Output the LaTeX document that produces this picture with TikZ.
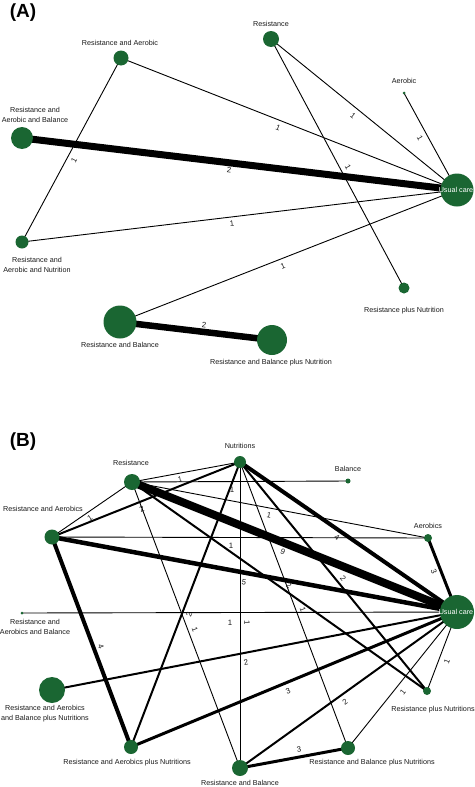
\documentclass[tikz,border=0pt]{standalone}
\usepackage{fontspec}
\setmainfont{Liberation Sans}
\usetikzlibrary{backgrounds}
\definecolor{nodegreen}{RGB}{26,102,50}
\definecolor{txt}{RGB}{25,25,25}
\begin{document}
\begin{tikzpicture}[x=1pt,y=-1pt,
  tnode/.style={circle, fill=nodegreen, draw=none, inner sep=0pt, minimum size=#1},
  tlab/.style={font=\fontsize{7.2}{10}\selectfont, text=txt, align=center, inner sep=0pt},
  elab/.style={font=\fontsize{7.8}{9}\selectfont, text=txt, inner sep=0pt},
  ucl/.style={font=\fontsize{7.2}{10}\selectfont, text=white, inner sep=0pt},
  panel/.style={font=\fontsize{19}{22}\selectfont\bfseries, text=black, inner sep=0pt},
  link/.style={draw=black, line width=#1}]
\useasboundingbox (0,0) rectangle (474,787);
\clip (0,0) rectangle (474,787);

% ---------------- Panel A ----------------
\node[panel] (pA) at (23,13) {(A)};
\node[tnode=33pt] (aUC) at (457,190) {};
\node[tnode=16pt] (aR) at (271,39) {};
\node[tnode=15pt] (aRA) at (121,58) {};
\node[tnode=3pt] (aA) at (404,93) {};
\node[tnode=22pt] (aRAB) at (22,138) {};
\node[tnode=13pt] (aRAN) at (22,242) {};
\node[tnode=11pt] (aRPN) at (404,288) {};
\node[tnode=33pt] (aRB) at (120,322) {};
\node[tnode=30pt] (aRBN) at (272,340) {};

\node[ucl] (aUCt) at (456,190) {Usual care};
\node[tlab] (aRAt) at (120,43) {Resistance and Aerobic};
\node[tlab] (aRt) at (271,24) {Resistance};
\node[tlab] (aAt) at (404,81) {Aerobic};
\node[tlab] (aRABt) at (35,115) {Resistance and\\Aerobic and Balance};
\node[tlab] (aRANt) at (37,265) {Resistance and\\Aerobic and Nutrition};
\node[tlab] (aRPNt) at (404,311) {Resistance plus Nutrition};
\node[tlab] (aRBt) at (120,345) {Resistance and Balance};
\node[tlab] (aRBNt) at (271,363) {Resistance and Balance plus Nutrition};

\begin{pgfonlayer}{background}
\draw[link=0.9pt] (aRA.center) -- (aUC.center);
\draw[link=0.9pt] (aR.center) -- (aUC.center);
\draw[link=0.9pt] (aA.center) -- (aUC.center);
\draw[link=0.9pt] (aR.center) -- (aRPN.center);
\draw[link=7pt] (aRAB.center) -- (aUC.center);
\draw[link=0.9pt] (aRA.center) -- (aRAN.center);
\draw[link=0.9pt] (aRAN.center) -- (aUC.center);
\draw[link=0.9pt] (aRB.center) -- (aUC.center);
\draw[link=6.5pt] (aRB.center) -- (aRBN.center);
\end{pgfonlayer}

\node[elab, rotate=-21.4] (aL1) at (278,128) {1};
\node[elab, rotate=-39.1] (aL2) at (353,116) {1};
\node[elab, rotate=-61.3] (aL3) at (420,138) {1};
\node[elab, rotate=-61.9] (aL4) at (348,167) {1};
\node[elab, rotate=-6.8] (aL5) at (229,170) {2};
\node[elab, rotate=61.7] (aL6) at (74,160) {1};
\node[elab, rotate=6.8] (aL7) at (232,224) {1};
\node[elab, rotate=21.4] (aL8) at (283,266) {1};
\node[elab, rotate=-6.8] (aL9) at (204,325) {2};

% ---------------- Panel B ----------------
\node[panel] (pB) at (23,442) {(B)};
\node[tnode=34pt] (bUC) at (457,612) {};
\node[tnode=16pt] (bR) at (132,482) {};
\node[tnode=12pt] (bN) at (240,462) {};
\node[tnode=5pt] (bBal) at (348,481) {};
\node[tnode=15pt] (bRA) at (52,537) {};
\node[tnode=8pt] (bAer) at (428,538) {};
\node[tnode=3pt] (bRAB) at (22,613) {};
\node[tnode=26pt] (bRABN) at (52,690) {};
\node[tnode=14pt] (bRAN) at (131,747) {};
\node[tnode=16pt] (bRB) at (240,768) {};
\node[tnode=14pt] (bRBN) at (348,748) {};
\node[tnode=8pt] (bRPN) at (427,691) {};

\node[ucl] (bUCt) at (456,612) {Usual care};
\node[tlab] (bNt) at (240,446) {Nutritions};
\node[tlab] (bRt) at (131,463) {Resistance};
\node[tlab] (bBalt) at (348,469) {Balance};
\node[tlab] (bRAt) at (43,509) {Resistance and Aerobics};
\node[tlab] (bAert) at (428,526) {Aerobics};
\node[tlab] (bRABt) at (35,627) {Resistance and\\Aerobics and Balance};
\node[tlab] (bRABNt) at (45,714) {Resistance and Aerobics\\and Balance plus Nutritions};
\node[tlab] (bRANt) at (127,763) {Resistance and Aerobics plus Nutritions};
\node[tlab] (bRBt) at (240,783) {Resistance and Balance};
\node[tlab] (bRBNt) at (372,763) {Resistance and Balance plus Nutritions};
\node[tlab] (bRPNt) at (433,710) {Resistance plus Nutritions};

\begin{pgfonlayer}{background}
\draw[link=0.9pt] (bR.center) -- (bN.center);
\draw[link=0.9pt] (bR.center) -- (bBal.center);
\draw[link=0.9pt] (bR.center) -- (bRA.center);
\draw[link=0.9pt] (bR.center) -- (bAer.center);
\draw[link=8pt] (bR.center) -- (bUC.center);
\draw[link=2pt] (bR.center) -- (bRPN.center);
\draw[link=0.9pt] (bR.center) -- (bRB.center);
\draw[link=2pt] (bN.center) -- (bRA.center);
\draw[link=2pt] (bN.center) -- (bRAN.center);
\draw[link=0.9pt] (bN.center) -- (bRB.center);
\draw[link=4pt] (bN.center) -- (bUC.center);
\draw[link=2pt] (bN.center) -- (bRPN.center);
\draw[link=0.9pt] (bN.center) -- (bRBN.center);
\draw[link=0.9pt] (bRA.center) -- (bAer.center);
\draw[link=4.5pt] (bRA.center) -- (bUC.center);
\draw[link=4pt] (bRA.center) -- (bRAN.center);
\draw[link=3pt] (bAer.center) -- (bUC.center);
\draw[link=0.9pt] (bRAB.center) -- (bUC.center);
\draw[link=2pt] (bRABN.center) -- (bUC.center);
\draw[link=3pt] (bRAN.center) -- (bUC.center);
\draw[link=2pt] (bRB.center) -- (bUC.center);
\draw[link=3pt] (bRB.center) -- (bRBN.center);
\draw[link=0.9pt] (bRBN.center) -- (bUC.center);
\draw[link=0.9pt] (bRPN.center) -- (bUC.center);
\end{pgfonlayer}

\node[elab, rotate=10.5] (bL1) at (180,479) {1};
\node[elab] (bL2) at (232,490) {1};
\node[elab, rotate=34.5] (bL3) at (90,518) {1};
\node[elab, rotate=-10.7] (bL4) at (269,515) {1};
\node[elab, rotate=-21.8] (bL5) at (283,552) {9};
\node[elab, rotate=-35.3] (bL6) at (289,586) {2};
\node[elab, rotate=-69.3] (bL7) at (195,630) {1};
\node[elab, rotate=21.8] (bL8) at (142,509) {2};
\node[elab, rotate=69.1] (bL9) at (189,614) {2};
\node[elab, rotate=-90] (bL10) at (247,623) {1};
\node[elab, rotate=-34.7] (bL11) at (337,538) {4};
\node[elab, rotate=-50.8] (bL12) at (343,578) {2};
\node[elab, rotate=-69.3] (bL13) at (303,610) {1};
\node[elab] (bL14) at (231,546) {1};
\node[elab, rotate=-10.5] (bL15) at (244,582) {5};
\node[elab, rotate=-69.4] (bL16) at (101,647) {4};
\node[elab, rotate=-68.6] (bL17) at (434,572) {3};
\node[elab] (bL18) at (230,623) {1};
\node[elab, rotate=10.9] (bL19) at (246,662) {2};
\node[elab, rotate=22.5] (bL20) at (288,691) {3};
\node[elab, rotate=35.7] (bL21) at (345,702) {2};
\node[elab, rotate=10.5] (bL22) at (299,749) {3};
\node[elab, rotate=51.3] (bL23) at (403,692) {1};
\node[elab, rotate=69.2] (bL24) at (447,662) {1};
\end{tikzpicture}
\end{document}
